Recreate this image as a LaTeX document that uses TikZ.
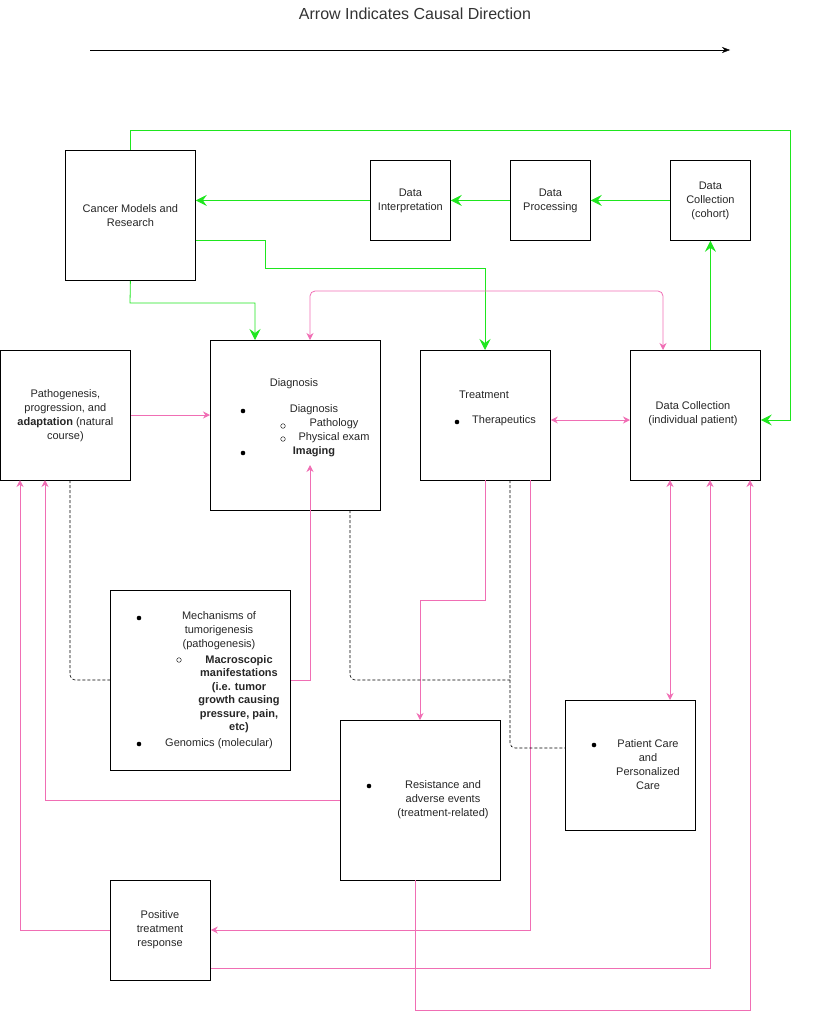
\documentclass[tikz,border=0pt]{standalone}
\usepackage{fontspec}
\setmainfont{Liberation Sans}
\usetikzlibrary{arrows.meta}
\definecolor{pnk}{RGB}{240,110,180}
\definecolor{grn}{RGB}{30,230,30}
\begin{document}
\begin{tikzpicture}[x=1pt,y=-1pt,font=\fontsize{11}{14}\selectfont,
  box/.style={draw,thick,inner sep=0pt,anchor=north west},
  txt/.style={align=center,inner sep=0pt,text=black!85},
  pk/.style={pnk,thick,-{Stealth[length=7pt,width=7pt]}},
  pkk/.style={pnk,thick,{Stealth[length=7pt,width=7pt]}-{Stealth[length=7pt,width=7pt]}},
  gr/.style={grn,thick,-{Stealth[length=11pt,width=11pt,inset=4pt]}},
  dsh/.style={black,semithick,dash pattern=on 3pt off 2pt,rounded corners=5pt}]
\useasboundingbox (0,0) rectangle (818,1031);
\node[font=\fontsize{16}{19}\selectfont,text=black!80] (title) at (415,14) {Arrow Indicates Causal Direction};
\coordinate (a0) at (90,50); \coordinate (a1) at (730,50);
\draw[-{Stealth[length=8pt]}] (a0) -- (a1);

% boxes
\node[box,minimum width=130,minimum height=130] (cancer) at (65,150) {};
\node[box,minimum width=80,minimum height=80] (interp) at (370,160) {};
\node[box,minimum width=80,minimum height=80] (proc) at (510,160) {};
\node[box,minimum width=80,minimum height=80] (cohort) at (670,160) {};
\node[box,minimum width=130,minimum height=130] (patho) at (0,350) {};
\node[box,minimum width=170,minimum height=170] (diag) at (210,340) {};
\node[box,minimum width=130,minimum height=130] (treat) at (420,350) {};
\node[box,minimum width=130,minimum height=130] (dcind) at (630,350) {};
\node[box,minimum width=180,minimum height=180] (mech) at (110,590) {};
\node[box,minimum width=160,minimum height=160] (resist) at (340,720) {};
\node[box,minimum width=130,minimum height=130] (care) at (565,700) {};
\node[box,minimum width=100,minimum height=100] (pos) at (110,880) {};

% texts
\node[txt] (tcancer) at (cancer) {Cancer Models and\\Research};
\node[txt] (tinterp) at (interp) {Data\\Interpretation};
\node[txt] (tproc) at (proc) {Data\\Processing};
\node[txt] (tcohort) at (cohort) {Data\\Collection\\(cohort)};
\node[txt] (tpatho) at (patho) {Pathogenesis,\\progression, and\\\textbf{adaptation} (natural\\course)};
\node[txt] (tdiag) at (294,384) {Diagnosis};
\node[txt] (tdiag1) at (314,410) {Diagnosis};
\node[txt] (tdiag2) at (334,424) {Pathology};
\node[txt] (tdiag3) at (334,438) {Physical exam};
\node[txt] (tdiag4) at (314,452) {\textbf{Imaging}};
\foreach \y in {411,453} \fill (243,\y) circle (2.3);
\foreach \y in {426,439} \draw (283,\y) circle (2.3);
\node[txt] (ttreat) at (484,395) {Treatment};
\node[txt] (ttreat1) at (504,421) {Therapeutics};
\fill (457,422) circle (2.3);
\node[txt] (tdcind) at (693,414) {Data Collection\\(individual patient)};
\node[txt] (tmech1) at (219,631) {Mechanisms of\\tumorigenesis\\(pathogenesis)};
\node[txt,font=\fontsize{11}{13.5}\selectfont\bfseries] (tmech2) at (239,694) {Macroscopic\\manifestations\\(i.e. tumor\\growth causing\\pressure, pain,\\etc)};
\node[txt] (tmech3) at (219,744) {Genomics (molecular)};
\foreach \y in {618,744} \fill (139,\y) circle (2.3);
\draw (179,660) circle (2.3);
\node[txt] (tresist) at (443,800) {Resistance and\\adverse events\\(treatment-related)};
\fill (369,786) circle (2.3);
\node[txt] (tcare) at (648,765) {Patient Care\\and\\Personalized\\Care};
\fill (594,745) circle (2.3);
\node[txt] (tpos) at (160,930) {Positive\\treatment\\response};

% green
\draw[gr] (dcind.north -| cohort.south) -- (cohort.south);
\draw[gr] (cohort.west) -- (proc.east);
\draw[gr] (proc.west) -- (interp.east);
\draw[gr] (interp.west) -- (cancer.east |- interp.west);
\draw[gr] (cancer.north) -- ++(0,-20) -| (790,420) -- (dcind.east |- 0,420);
\draw[gr] (cancer.east |- 0,240) -- (265,240) -- (265,268) -| (485,350);
\draw[gr] (cancer.south) -- (130,303) -| (255,340);

% pink
\draw[pkk,rounded corners=5pt] (310,340) -- (310,291) -- (663,291) -- (663,350);
\draw[pk] (patho.east |- 0,415) -- (diag.west |- 0,415);
\draw[pkk] (treat.east |- 0,420) -- (dcind.west |- 0,420);
\draw[pk] (mech.east |- 0,680) -| (310,465);
\draw[pk] (485,480) -- (485,600) -| (420,720);
\draw[pk] (530,480) |- (pos.east |- 0,930);
\draw[pkk] (670,480) -- (670,700);
\draw[pk] (pos.east |- 0,968) -| (710,480);
\draw[pk] (415,880) |- (750,1010) -- (750,480);
\draw[pk] (resist.west |- 0,800) -| (45,480);
\draw[pk] (pos.west |- 0,930) -| (20,480);

% dashed
\draw[dsh] (70,480) |- (mech.west |- 0,680);
\draw[dsh] (350,510) |- (510,680);
\draw[dsh] (510,480) |- (care.west |- 0,748);
\end{tikzpicture}
\end{document}
